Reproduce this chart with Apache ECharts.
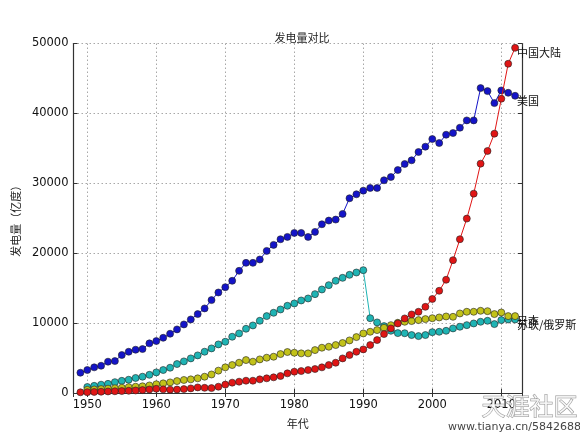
<!DOCTYPE html>
<html>
<head>
<meta charset="utf-8">
<script src="https://cdn.jsdelivr.net/npm/echarts@6/dist/echarts.min.js"></script>
<style>html,body{margin:0;padding:0;background:#fff;}#c{width:580px;height:437px;}</style>
</head>
<body>
<div id="c"></div>
<script>
// years 1949..2012
var years = [];
for (var y = 1949; y <= 2012; y++) years.push(y);

var usa = [2900,3290,3670,3900,4480,4570,5430,5900,6190,6290,
  7100,7430,7900,8480,9100,9810,10520,11290,12100,13290,
  14380,15140,16050,17480,18620,18620,19100,20330,21190,22000,
  22330,22900,22900,22330,23050,24140,24670,24810,25620,27860,
  28430,28950,29330,29330,30430,30900,31900,32760,33290,34480,
  35240,36330,35760,36950,37190,37950,39000,39000,43620,43190,
  41470,43290,42950,42520];

var ussr = [null,860,1020,1190,1310,1550,1740,1900,2150,2330,
  2600,2950,3286,3619,4143,4524,4952,5381,5905,6381,
  6952,7333,8048,8524,9190,9667,10333,11000,11476,11952,
  12476,12810,13238,13524,14143,14810,15429,16048,16476,16905,
  17238,17571,10700,10100,9570,8900,8570,8550,8290,8140,
  8290,8700,8760,8900,9240,9480,9710,9950,10190,10330,
  9860,10430,10520,10520];

var japan = [null,450,500,560,620,680,760,840,900,960,
  1080,1250,1380,1520,1710,1860,1950,2100,2330,2650,
  3200,3670,4000,4330,4710,4480,4810,5050,5190,5570,
  5860,5760,5670,5670,6140,6480,6620,6860,7150,7520,
  8000,8520,8760,9000,9330,9710,10050,10190,10290,10430,
  10570,10700,10810,10950,10900,11380,11620,11620,11760,11710,
  11290,11520,11000,11000];

var china = [100,120,150,180,220,250,280,320,360,420,
  500,600,520,480,500,560,660,800,740,700,
  900,1200,1480,1620,1760,1760,1950,2100,2240,2430,
  2810,3050,3140,3290,3430,3670,4000,4330,4950,5430,
  5900,6240,6860,7570,8430,9240,9950,10670,11240,11620,
  12330,13450,14620,16200,19000,22000,24950,28520,32810,34620,
  37100,42100,47100,49380];

var seriesNames = ['美国','苏联/俄罗斯','日本','中国大陆'];
var seriesColors = ['#1414c8','#1fb4b4','#c2c21a','#e01515'];
var seriesData = [usa, ussr, japan, china];

var xTicks = [1950,1960,1970,1980,1990,2000,2010];
var yTicks = [0,10000,20000,30000,40000,50000];

var CJK = '"Noto Sans CJK SC", sans-serif';
var NUM = '"DejaVu Sans", sans-serif';

function build(vals, name) {
  var out = [];
  var lastIdx = -1;
  for (var i = 0; i < vals.length; i++) if (vals[i] != null) lastIdx = i;
  for (var i = 0; i < vals.length; i++) {
    if (vals[i] == null) continue;
    if (i === lastIdx) {
      out.push({value: [years[i], vals[i]], label: {
        show: true, position: 'right', distance: -2, offset: [0, 5],
        formatter: name, color: '#111', fontFamily: CJK, fontSize: 11
      }});
    } else {
      out.push([years[i], vals[i]]);
    }
  }
  return out;
}

var series = seriesNames.map(function (n, k) {
  return {
    name: n, type: 'line', data: build(seriesData[k], n),
    symbol: 'circle', symbolSize: 7, showSymbol: true,
    lineStyle: {color: seriesColors[k], width: 1},
    itemStyle: {color: seriesColors[k], borderColor: '#222', borderWidth: 0.6},
    emphasis: {disabled: true}, animation: false, z: 2 + k
  };
});

var chart = echarts.init(document.getElementById('c'), null, {renderer: 'canvas'});
var axisLineStyle = {color: '#333', width: 1.2};
chart.setOption({
  animation: false,
  backgroundColor: '#fff',
  title: {text: '发电量对比', left: 297, top: 27, textAlign: 'center',
    textStyle: {fontFamily: CJK, fontSize: 11, fontWeight: 'normal', color: '#222'}},
  grid: {left: 73.5, right: 58, top: 43.5, bottom: 44, containLabel: false},
  xAxis: [{
    type: 'value', min: 1948, max: 2013, splitNumber: 6,
    name: '年代', nameLocation: 'middle', nameGap: 25,
    nameTextStyle: {fontFamily: CJK, fontSize: 11, color: '#222'},
    axisLine: {show: true, lineStyle: axisLineStyle},
    axisTick: {show: true, inside: true, length: 4, lineStyle: {color: '#333'}},
    axisLabel: {margin: 6, fontFamily: NUM, fontSize: 11.5, color: '#111',
      showMinLabel: false, showMaxLabel: false,
      formatter: function (v) { return xTicks.indexOf(v) >= 0 ? String(v) : ''; }},
    splitLine: {show: true, lineStyle: {color: '#a8a8a8', type: [1.5, 2.5], width: 1}}
  }, {
    type: 'value', min: 1948, max: 2013, splitNumber: 6, position: 'top',
    axisLine: {show: true, lineStyle: axisLineStyle},
    axisTick: {show: true, inside: true, length: 4, lineStyle: {color: '#333'}},
    axisLabel: {show: false}, splitLine: {show: false}
  }],
  yAxis: [{
    type: 'value', min: 0, max: 50000, interval: 10000,
    name: '发电量（亿度）', nameLocation: 'middle', nameGap: 50, nameRotate: 90,
    nameTextStyle: {fontFamily: CJK, fontSize: 11, color: '#222'},
    axisLine: {show: true, lineStyle: axisLineStyle},
    axisTick: {show: true, inside: true, length: 4, lineStyle: {color: '#333'}},
    axisLabel: {margin: 5, fontFamily: NUM, fontSize: 11.5, color: '#111',
      formatter: function (v) { return yTicks.indexOf(v) >= 0 ? String(v) : ''; }},
    splitLine: {show: true, lineStyle: {color: '#a8a8a8', type: [1.5, 2.5], width: 1}}
  }, {
    type: 'value', min: 0, max: 50000, interval: 10000, position: 'right',
    axisLine: {show: true, lineStyle: axisLineStyle},
    axisTick: {show: true, inside: true, length: 4, lineStyle: {color: '#333'}},
    axisLabel: {show: false}, splitLine: {show: false}
  }],
  series: series,
  graphic: [
    {type: 'text', left: 481, top: 393, z: 100, style: {text: '天涯社区',
      font: '24px "Noto Sans CJK SC"', fill: 'rgba(255,255,255,0.75)',
      stroke: 'rgba(120,120,120,0.8)', lineWidth: 1}},
    {type: 'text', left: 447, top: 421, z: 100, style: {text: 'www.tianya.cn/5842688',
      font: '11px "DejaVu Sans"', fill: '#444', stroke: '#fff', lineWidth: 2}}
  ]
});
</script>
</body>
</html>
